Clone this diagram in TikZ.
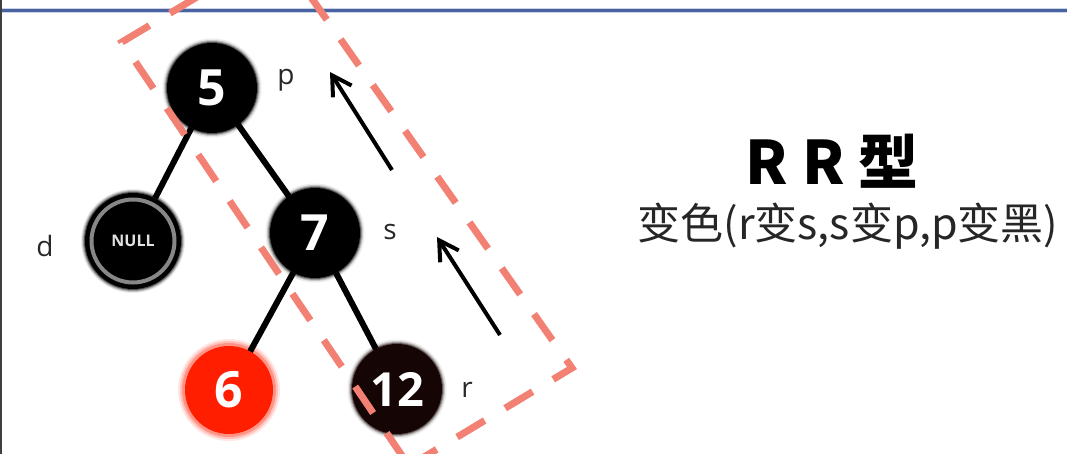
\documentclass[tikz,border=0pt]{standalone}
\usepackage{fontspec}
\setmainfont{Open Sans}
\newfontfamily\cjk{Noto Sans CJK SC}
\usetikzlibrary{arrows.meta}
\definecolor{salmon}{RGB}{242,128,115}
\definecolor{rulerblue}{RGB}{74,98,160}
\definecolor{rulerlight}{RGB}{200,212,232}
\definecolor{nodered}{RGB}{255,30,0}
\definecolor{glowred}{RGB}{255,90,70}
\definecolor{darkbrown}{RGB}{22,5,5}
\definecolor{labelgray}{RGB}{40,40,40}
\definecolor{nullgray}{RGB}{135,135,135}
\definecolor{nulltext}{RGB}{225,225,225}
\begin{document}
\begin{tikzpicture}[x=1pt,y=-1pt,
  treenode/.style={circle,minimum size=90pt,inner sep=0pt,outer sep=0pt,text=white,font=\bfseries\fontsize{50}{50}\selectfont},
  edge/.style={line width=6pt,black},
  lbl/.style={text=labelgray,font=\fontsize{28}{28}\selectfont,inner sep=0pt},
  upar/.style={line width=4pt,black,-{Straight Barb[length=19pt,width=22pt]}},
  frame/.style={salmon,line width=7pt,dash pattern=on 32pt off 24pt,line join=miter},
]
\useasboundingbox (0,0) rectangle (1067,454);
\fill[white] (0,0) rectangle (1067,454);
\draw[rulerlight,line width=5pt] (0,10.5) -- (1067,10.5);
\draw[rulerblue,line width=3pt] (0,10.5) -- (1067,10.5);
\draw[black!75,line width=2pt] (1,0) -- (1,454);

% positions
\coordinate (c5) at (212,88);
\coordinate (cN) at (133,241);
\coordinate (c7) at (315,233);
\coordinate (c6) at (229,390);
\coordinate (c12) at (397,389);

% glows
\foreach \r/\o in {49.5/0.08,48/0.15,47/0.25,46/0.45}{
  \fill[black,opacity=\o] (c5) circle (\r pt);
  \fill[black,opacity=\o] (c7) circle (\r pt);
  \fill[darkbrown,opacity=\o] (c12) circle (\r pt);
}
\foreach \r/\o in {52/0.08,51/0.15,50/0.25,49/0.45}{
  \fill[black,opacity=\o] (cN) circle (\r pt);
}
\foreach \r/\o in {51/0.15,49/0.25,47/0.45}{
  \fill[glowred,opacity=\o] (c6) circle (\r pt);
}

% nodes
\node[treenode,fill=black] (n5) at (c5) {5};
\node[treenode,fill=black] (n7) at (c7) {7};
\node[treenode,fill=nodered,minimum size=88pt] (n6) at (c6) {6};
\node[treenode,fill=darkbrown,font=\bfseries\fontsize{47}{47}\selectfont] (n12) at (c12) {12};
\node[circle,fill=black,minimum size=96pt,inner sep=0pt,text=nulltext,font=\bfseries\fontsize{16}{16}\selectfont] (nN) at (cN) {NULL};
\draw[nullgray,line width=4pt] (cN) circle (41.5pt);

% edges
\draw[edge] (n5) -- (nN);
\draw[edge] (n5) -- (n7);
\draw[edge] (n7) -- (n6);
\draw[edge] (n7) -- (n12);

% labels
\node[lbl] (lp) at (286,80) {p};
\node[lbl] (ls) at (390,232) {s};
\node[lbl] (lr) at (467,390) {r};
\node[lbl] (ld) at (45,246) {d};

% arrows
\coordinate (a1t) at (392,170);
\coordinate (a1h) at (330,72);
\coordinate (a2t) at (500,335);
\coordinate (a2h) at (437,237);
\draw[upar] (a1t) -- (a1h);
\draw[upar] (a2t) -- (a2h);

% text
\node[anchor=base,inner sep=0pt,font=\cjk\bfseries\fontsize{60}{60}\selectfont] (title) at (832,185) {R R 型};
\node[anchor=base,inner sep=0pt,text=black!85,font=\cjk\fontsize{43}{43}\selectfont] (sub) at (848,240) {变色(r变s,s变p,p变黑)};

% dashed frame
\coordinate (fA) at (122,42);
\coordinate (fB) at (277,-51);
\coordinate (fC) at (572,368);
\coordinate (fD) at (409,466);
\draw[frame,dash phase=55.8pt] (fD) -- (fC) -- (fB);
\draw[frame,dash phase=19.2pt] (fB) -- (fA) -- (fD);
\end{tikzpicture}
\end{document}
